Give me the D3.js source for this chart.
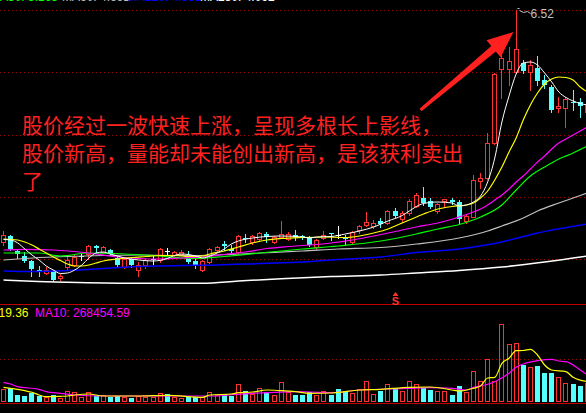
<!DOCTYPE html>
<html lang="zh">
<head>
<meta charset="UTF-8">
<title>kline</title>
<script src="https://d3js.org/d3.v7.min.js"></script>
<style>
  html, body { margin: 0; padding: 0; background: #000; overflow: hidden; }
  svg { display: block; }
</style>
</head>
<body>
<script>
const width = 586
const height = 413

// daily candles, oldest on the left
const opens = [4.20,4.26,4.11,4.06,4.01,3.92,3.89,3.91,3.84,3.95,
    3.97,4.06,4.08,4.16,4.10,4.12,4.04,3.95,4.03,3.92,
    3.97,4.03,4.02,4.11,4.07,4.08,4.06,4.01,3.92,4.00,
    4.12,4.18,4.13,4.10,4.24,4.20,4.23,4.28,4.20,4.25,
    4.23,4.27,4.26,4.24,4.15,4.24,4.29,4.27,4.25,4.20,
    4.32,4.37,4.36,4.41,4.39,4.51,4.43,4.49,4.56,4.64,
    4.61,4.51,4.61,4.62,4.60,4.41,4.45,4.81,4.84,5.19,
    5.93,5.93,5.90,5.99,5.90,5.94,5.82,5.75,5.54,5.54,
    5.60,5.60,5.50]
const closes = [4.27,4.13,4.08,4.01,3.93,3.91,3.92,3.82,3.86,4.02,
    4.05,4.06,4.16,4.14,4.15,4.08,3.97,4.03,3.97,3.97,
    4.02,4.03,4.13,4.11,4.10,4.10,4.00,3.97,4.01,4.13,
    4.15,4.16,4.11,4.26,4.23,4.26,4.29,4.25,4.25,4.28,
    4.28,4.25,4.25,4.17,4.22,4.27,4.28,4.27,4.23,4.30,
    4.36,4.40,4.39,4.38,4.51,4.46,4.49,4.61,4.67,4.59,
    4.55,4.58,4.63,4.60,4.43,4.46,4.82,4.84,5.19,5.88,
    6.04,6.01,6.13,5.91,5.97,5.81,5.77,5.52,5.56,5.63,
    5.59,5.56,5.57]
const highs = [4.31,4.27,4.12,4.10,4.02,3.96,3.95,3.92,3.88,4.06,
    4.07,4.08,4.17,4.17,4.16,4.13,4.06,4.04,4.04,4.00,
    4.04,4.06,4.14,4.14,4.11,4.12,4.11,4.03,4.02,4.14,
    4.16,4.21,4.17,4.27,4.28,4.27,4.30,4.30,4.26,4.41,
    4.30,4.32,4.27,4.26,4.23,4.31,4.29,4.36,4.27,4.31,
    4.37,4.50,4.42,4.44,4.52,4.54,4.51,4.63,4.69,4.75,
    4.64,4.59,4.63,4.64,4.62,4.47,4.87,4.89,5.29,5.89,
    6.17,6.15,6.52,6.02,6.02,6.06,5.87,5.77,5.65,5.65,
    5.72,5.64,5.61]
const lows = [4.17,4.12,4.04,4.00,3.86,3.86,3.88,3.81,3.82,3.92,
    3.96,4.02,4.03,4.09,4.09,4.07,3.96,3.94,3.95,3.86,
    3.94,3.98,4.00,4.08,4.06,4.07,3.99,3.94,3.91,3.99,
    4.10,4.12,4.10,4.09,4.20,4.18,4.22,4.20,4.19,4.24,
    4.22,4.22,4.23,4.16,4.13,4.23,4.22,4.24,4.17,4.19,
    4.29,4.36,4.34,4.35,4.38,4.45,4.40,4.47,4.55,4.57,
    4.54,4.49,4.55,4.58,4.39,4.39,4.45,4.74,4.83,5.18,
    5.64,5.77,5.89,5.89,5.72,5.77,5.74,5.50,5.50,5.35,
    5.52,5.45,5.49]
const volumes = [130000,137000,70000,60000,87000,60000,47000,70000,37000,110000,
    97000,47000,97000,60000,70000,47000,60000,47000,37000,60000,
    47000,47000,87000,80000,47000,37000,47000,47000,47000,97000,
    70000,80000,60000,177000,110000,80000,137000,97000,70000,197000,
    103000,70000,70000,97000,70000,110000,70000,130000,110000,87000,
    127000,210000,77000,110000,177000,130000,110000,210000,177000,143000,
    120000,110000,110000,70000,160000,103000,310000,210000,427000,210000,
    780000,580000,593000,370000,347000,360000,293000,293000,247000,187000,
    180000,160000,187000]

// moving averages: [day index, value]
const ma5Pts = [[0,4.225],[1,4.22],[2,4.19],[3,4.13],[4,4.07],[5,4.02],[6,3.96],[7,3.92],[8,3.885],[9,3.89],
    [10,3.92],[11,3.97],[12,4.04],[13,4.09],[14,4.10],[15,4.08],[16,4.06],[17,4.04],[19,4.02],[21,4.01],
    [23,4.035],[24,4.065],[25,4.08],[27,4.06],[28,4.04],[29,4.06],[30,4.09],[31,4.13],[32,4.18],[33,4.21],
    [35,4.24],[37,4.255],[39,4.26],[42,4.25],[43,4.24],[44,4.25],[46,4.255],[48,4.28],[50,4.31],[52,4.35],
    [54,4.41],[56,4.465],[57,4.51],[58,4.555],[59,4.585],[61,4.60],[63,4.59],[64,4.56],[65,4.57],[66,4.60],
    [67,4.66],[68,4.80],[69,5.04],[70,5.40],[71,5.66],[72,5.88],[73,5.99],[74,6.00],[75,5.97],[76,5.89],
    [77,5.80],[78,5.70],[79,5.645],[80,5.61],[81,5.585],[82,5.57]]
const ma10Pts = [[0,4.23],[2,4.22],[3,4.20],[4,4.17],[5,4.13],[6,4.09],[7,4.05],[8,4.015],[9,3.98],[10,3.96],
    [11,3.96],[12,3.97],[13,3.99],[14,4.01],[16,4.03],[18,4.045],[20,4.055],[22,4.065],[24,4.065],[26,4.055],
    [28,4.06],[29,4.08],[31,4.11],[33,4.15],[35,4.19],[37,4.22],[39,4.235],[42,4.245],[45,4.25],[48,4.245],
    [50,4.26],[52,4.29],[54,4.33],[55,4.36],[57,4.42],[59,4.48],[61,4.53],[63,4.555],[65,4.57],[66,4.59],
    [67,4.64],[68,4.71],[69,4.82],[70,4.95],[71,5.10],[72,5.24],[73,5.42],[74,5.57],[75,5.69],[76,5.78],
    [77,5.83],[78,5.85],[79,5.845],[80,5.82],[81,5.75],[82,5.70]]
const ma20Pts = [[0,4.12],[3,4.127],[7,4.12],[10,4.105],[12,4.09],[16,4.05],[19,4.035],[22,4.03],[25,4.04],
    [28,4.05],[31,4.075],[34,4.10],[37,4.135],[40,4.155],[43,4.17],[46,4.19],[49,4.22],[52,4.26],[55,4.305],
    [58,4.35],[61,4.39],[64,4.45],[66,4.50],[67,4.53],[68,4.57],[69,4.62],[70,4.67],[71,4.73],[72,4.80],
    [73,4.86],[74,4.93],[75,5.00],[76,5.06],[77,5.13],[78,5.19],[79,5.23],[80,5.27],[81,5.31],[82,5.35]]
const ma30Pts = [[0,4.09],[5,4.09],[8,4.06],[12,4.09],[20,4.07],[27,4.035],[31,4.055],[36,4.09],[42,4.13],
    [47,4.16],[53,4.21],[58,4.28],[61,4.33],[64,4.375],[67,4.45],[70,4.57],[72,4.72],[74,4.86],[76,4.95],
    [78,5.03],[80,5.09],[82,5.16]]
const ma60Pts = [[0,4.02],[2,4.03],[5,4.045],[9,4.055],[14,4.065],[19,4.07],[25,4.065],[30,4.07],[36,4.09],
    [42,4.11],[47,4.13],[53,4.145],[58,4.18],[64,4.24],[68,4.31],[70,4.36],[73,4.44],[75,4.51],[78,4.59],
    [80,4.64],[82,4.69]]
const ma120Pts = [[0,3.91],[4,3.905],[9,3.915],[14,3.935],[18,3.953],[25,3.965],[30,3.97],[36,3.985],[42,4.00],
    [47,4.025],[53,4.05],[58,4.095],[64,4.13],[70,4.20],[75,4.29],[82,4.38]]
const ma250Pts = [[0,3.82],[4,3.807],[9,3.797],[18,3.787],[28,3.787],[33,3.81],[39,3.833],[46,3.855],[53,3.87],
    [58,3.89],[64,3.915],[70,3.95],[76,4.00],[82,4.06]]

// volume averages
const volMa5Pts = [[0,147000],[1,137000],[2,127000],[3,113000],[4,97000],[5,70000],[6,53000],[8,57000],[9,60000],
    [10,70000],[12,80000],[14,60000],[19,60000],[23,67000],[28,47000],[29,70000],[32,80000],[33,93000],[35,100000],
    [37,120000],[39,113000],[41,103000],[43,87000],[46,90000],[50,120000],[53,127000],[57,147000],[60,150000],
    [63,120000],[64,110000],[66,137000],[67,160000],[68,240000],[69,247000],[70,387000],[71,437000],[72,513000],
    [73,515000],[74,527000],[75,470000],[76,370000],[77,320000],[79,303000],[80,247000],[82,203000]]
const volMa10Pts = [[0,197000],[1,180000],[2,153000],[5,127000],[6,103000],[8,87000],[10,70000],[14,60000],
    [18,60000],[23,60000],[28,60000],[30,60000],[32,73000],[35,87000],[37,93000],[41,103000],[43,100000],
    [46,93000],[50,120000],[54,130000],[57,137000],[60,143000],[63,137000],[65,120000],[66,147000],[68,177000],
    [69,203000],[71,287000],[72,347000],[73,380000],[75,413000],[77,427000],[78,410000],[79,403000],[81,320000],
    [82,270000]]

const gridPrices = [6.52, 5.90, 5.27, 4.65, 4.03]
const volGrid = [430000]
const highIndex = 72
const highLabel = '6.52'
const volLabelMa5 = 'MA5: 203219.36'
const volLabelMa10 = 'MA10: 268454.59'
const topLegend = [
    {t: 'MA30: 5.163', c: '#00ff00', x: -10},
    {t: 'MA60: 4.691', c: '#c0c0c0', x: 62},
    {t: 'MA120: 4.381', c: '#0000ff', x: 127},
    {t: 'MA250: 4.062', c: '#ffffff', x: 200}
]
const note = ['股价经过一波快速上涨，呈现多根长上影线，', '股价新高，量能却未能创出新高，是该获利卖出', '了']

const RED = '#ff3232'
const CYAN = '#54ffff'

var svg = d3.select("body")
    .append("svg")
    .attr("width", width)
    .attr("height", height)
    .style("background", "#000")

var xScale = d3.scaleLinear().domain([0, 82]).range([3.5, 3.5 + 7.12 * 82])
var yScale = d3.scaleLinear().domain([3.72, 6.62]).range([290, 0])
var vScale = d3.scaleLinear().domain([0, 1000000]).range([402, 302])
const cx = i => Math.round(xScale(i) - 0.5) + 0.5
const py = p => Math.round(yScale(p))

// panel frame and grid
svg.append("g").selectAll("line")
    .data(gridPrices).enter().append("line")
    .attr("x1", 0).attr("x2", width)
    .attr("y1", d => py(d) + 0.5).attr("y2", d => py(d) + 0.5)
    .attr("stroke", "#a00000").attr("stroke-dasharray", "1,3")
svg.append("g").selectAll("line")
    .data(volGrid).enter().append("line")
    .attr("x1", 0).attr("x2", width)
    .attr("y1", d => Math.round(vScale(d)) + 0.5).attr("y2", d => Math.round(vScale(d)) + 0.5)
    .attr("stroke", "#a00000").attr("stroke-dasharray", "1,3")
svg.append("line").attr("x1", 0).attr("x2", width).attr("y1", 304.5).attr("y2", 304.5)
    .attr("stroke", "#c00000")
svg.append("line").attr("x1", 0).attr("x2", width).attr("y1", 403.5).attr("y2", 403.5)
    .attr("stroke", "#c00000")

const days = d3.range(opens.length).map(i => ({
    i: i, o: opens[i], c: closes[i], h: highs[i], l: lows[i], v: volumes[i]
}))
function rising(d) {
    if (d.c !== d.o) return d.c > d.o
    return d.i === 0 || d.c >= closes[d.i - 1]
}

// candles
var cg = svg.append("g")
days.forEach(function (d) {
    var x = cx(d.i)
    var top = py(Math.max(d.o, d.c))
    var bot = py(Math.min(d.o, d.c))
    if (d.c > d.o) {
        cg.append("line").attr("x1", x).attr("x2", x).attr("y1", py(d.h)).attr("y2", top)
            .attr("stroke", RED)
        cg.append("line").attr("x1", x).attr("x2", x).attr("y1", bot + 1).attr("y2", py(d.l) + 1)
            .attr("stroke", RED)
        cg.append("rect").attr("x", x - 2).attr("y", top + 0.5).attr("width", 4)
            .attr("height", Math.max(bot - top, 1))
            .attr("fill", "#000").attr("stroke", RED)
    } else if (d.c < d.o) {
        cg.append("line").attr("x1", x).attr("x2", x).attr("y1", py(d.h)).attr("y2", py(d.l) + 1)
            .attr("stroke", CYAN)
        cg.append("rect").attr("x", x - 2.5).attr("y", top).attr("width", 5)
            .attr("height", Math.max(bot - top, 1)).attr("fill", CYAN)
    } else {
        cg.append("line").attr("x1", x).attr("x2", x).attr("y1", py(d.h)).attr("y2", py(d.l) + 1)
            .attr("stroke", "#fff")
        cg.append("line").attr("x1", x - 2.5).attr("x2", x + 2.5).attr("y1", top + 0.5).attr("y2", top + 0.5)
            .attr("stroke", "#fff")
    }
})

// volume bars
var vg = svg.append("g")
days.forEach(function (d) {
    var x = cx(d.i)
    var t = Math.round(vScale(d.v))
    if (rising(d)) {
        vg.append("rect").attr("x", x - 2).attr("y", t + 0.5).attr("width", 4)
            .attr("height", 401 - t).attr("fill", "none").attr("stroke", RED)
    } else {
        vg.append("rect").attr("x", x - 2.5).attr("y", t).attr("width", 5)
            .attr("height", 402 - t).attr("fill", CYAN)
    }
})

// moving average lines
var line = d3.line()
    .x(d => xScale(d[0]))
    .y(d => yScale(d[1]))
    .curve(d3.curveMonotoneX)
const maLines = [
    [ma250Pts, '#ffffff', 1.5],
    [ma120Pts, '#0000ff', 1.5],
    [ma60Pts, '#c0c0c0', 1.2],
    [ma30Pts, '#00ff00', 1.2],
    [ma20Pts, '#ff00ff', 1.2],
    [ma10Pts, '#ffff00', 1.2],
    [ma5Pts, '#ffffff', 1]
]
maLines.forEach(function (m) {
    svg.append("path")
        .attr("d", line(m[0]))
        .attr("fill", "none")
        .attr("stroke", m[1])
        .attr("stroke-width", m[2])
})
var vline = d3.line()
    .x(d => xScale(d[0]))
    .y(d => vScale(d[1]))
    .curve(d3.curveMonotoneX)
svg.append("path").attr("d", vline(volMa10Pts)).attr("fill", "none")
    .attr("stroke", "#ff00ff").attr("stroke-width", 1.2)
svg.append("path").attr("d", vline(volMa5Pts)).attr("fill", "none")
    .attr("stroke", "#ffff00").attr("stroke-width", 1.2)

// labels (the top legend sits mostly above the window, as in the original)
topLegend.forEach(function (t) {
    svg.append("text").text(t.t).attr("x", t.x).attr("y", 0.8)
        .attr("fill", t.c).attr("font-family", "Liberation Sans").attr("font-size", 12)
})
svg.append("text").text(volLabelMa5).attr("x", 28.5).attr("y", 317)
    .attr("text-anchor", "end")
    .attr("fill", "#ffff00").attr("font-family", "Liberation Sans").attr("font-size", 12)
svg.append("text").text(volLabelMa10).attr("x", 35).attr("y", 317)
    .attr("fill", "#ff00ff").attr("font-family", "Liberation Sans").attr("font-size", 12)

// highest price marker
var hx = cx(highIndex)
var hy = py(highs[highIndex])
svg.append("path")
    .attr("d", "M" + (hx + 1) + "," + (hy - 1.5) + " l2,0 M" + (hx + 3) + "," + (hy + 0.5) + " l4,2 l4,-1 l3,2")
    .attr("stroke", "#c0c0c0").attr("fill", "none")
svg.append("text").text(highLabel).attr("x", hx + 14).attr("y", hy + 8)
    .attr("fill", "#c0c0c0").attr("font-family", "Liberation Sans").attr("font-size", 12)

// S marker under the chart
var sx = cx(55)
svg.append("path").attr("d", "M" + (sx - 3) + ",296 L" + sx + ",292 L" + (sx + 3) + ",296 Z").attr("fill", RED)
svg.append("text").text("S").attr("x", sx).attr("y", 305).attr("text-anchor", "middle")
    .attr("fill", RED).attr("font-family", "Liberation Sans").attr("font-weight", "bold").attr("font-size", 11)

// annotation arrow
var tip = [hx - 3, hy + 22]
var tail = [tip[0] - 93, tip[1] + 78]
var dx = tip[0] - tail[0], dy = tip[1] - tail[1]
var len = Math.sqrt(dx * dx + dy * dy)
var ux = dx / len, uy = dy / len, nx = -uy, ny = ux
var headLen = 26, headW = 11, baseW = 3.5, tailW = 1.5
var bx = tip[0] - ux * headLen, by = tip[1] - uy * headLen
var pts = [
    [tail[0] + nx * tailW, tail[1] + ny * tailW],
    [bx + nx * baseW, by + ny * baseW],
    [bx + nx * headW, by + ny * headW],
    tip,
    [bx - nx * headW, by - ny * headW],
    [bx - nx * baseW, by - ny * baseW],
    [tail[0] - nx * tailW, tail[1] - ny * tailW]
]
svg.append("path").attr("d", "M" + pts.map(p => p.join(",")).join("L") + "Z")
    .attr("fill", "#ff2020")

// note text
note.forEach(function (t, k) {
    svg.append("text").text(t)
        .attr("x", 22).attr("y", 133 + k * 28)
        .attr("fill", "#ff2020")
        .attr("font-family", "Noto Sans CJK SC")
        .attr("font-size", 21)
})
</script>
</body>
</html>
